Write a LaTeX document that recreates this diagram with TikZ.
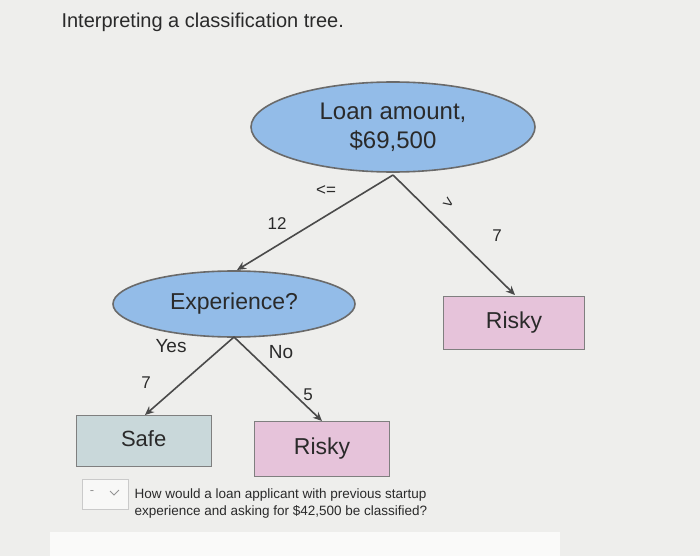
\documentclass[tikz,border=0pt]{standalone}
\usepackage{fontspec}
\setmainfont{Liberation Sans}
\usetikzlibrary{shapes.geometric,arrows.meta}
\definecolor{bg}{HTML}{EEEEEC}
\definecolor{ellfill}{HTML}{93BCE8}
\definecolor{pinkfill}{HTML}{E6C3DA}
\definecolor{safefill}{HTML}{C9D8DA}
\definecolor{ink}{HTML}{2A2A2A}
\tikzset{
  ell/.style={ellipse,draw=ink!70,fill=ellfill,line width=1.6pt,inner sep=0pt,text=ink},
  leaf/.style={rectangle,draw=ink!60,fill=#1,line width=1.2pt,inner sep=0pt,text=ink},
  edge/.style={draw=ink!85,line width=1.6pt,-{Stealth[length=9pt,width=8pt]}},
  lbl/.style={text=ink,font=\fontsize{17}{19}\selectfont},
}
\begin{document}
\begin{tikzpicture}[x=1pt,y=-1pt]
\fill[bg] (0,0) rectangle (700,556);
\useasboundingbox (0,0) rectangle (700,556);
\node[anchor=west,text=ink,font=\fontsize{20}{22}\selectfont] (title) at (58,22) {Interpreting a classification tree.};
\node[ell,minimum width=284pt,minimum height=90pt,align=center,font=\fontsize{24}{29}\selectfont] (root) at (393,127) {Loan amount,\\\$69,500};
\node[ell,minimum width=242pt,minimum height=66pt,font=\fontsize{23}{26}\selectfont] (exp) at (234,304) {Experience?};
\node[leaf=pinkfill,minimum width=141pt,minimum height=53pt,font=\fontsize{23}{26}\selectfont] (risk1) at (514,323) {Risky};
\node[leaf=safefill,minimum width=135pt,minimum height=51pt,font=\fontsize{22}{26}\selectfont,text width=118pt,align=left] (safe) at (144,441) {\raisebox{4pt}{\hspace*{36pt}Safe}};
\node[leaf=pinkfill,minimum width=135pt,minimum height=55pt,font=\fontsize{23}{26}\selectfont] (risk2) at (322,449) {\raisebox{-3pt}{Risky}};
\coordinate (rb) at (393,175);
\coordinate (eb) at (234,337);
\draw[edge] (rb) -- (237,270);
\draw[edge] (rb) -- (515,295);
\draw[edge] (eb) -- (145,415);
\draw[edge] (eb) -- (322,421);
\node[lbl,inner sep=0pt] (le) at (326,191) {<=};
\node[lbl] (l12) at (277,224) {12};
\node[lbl,rotate=-35] (gt) at (448,203) {>};
\node[lbl] (l7a) at (497,236) {7};
\node[lbl,font=\fontsize{19}{22}\selectfont] (yes) at (171,346) {Yes};
\node[lbl,font=\fontsize{19}{22}\selectfont] (no) at (281,352) {No};
\node[lbl] (l7b) at (146,383) {7};
\node[lbl] (l5) at (308,395) {5};
\node[draw=ink!25,fill=white!60!bg,minimum width=46pt,minimum height=30pt] (dd) at (105,494) {};
\node[text=ink!50,font=\fontsize{13}{15}\selectfont] (dash) at (92,493) {-};
\draw[ink!50,line width=1pt] (110,491) -- (114,495) -- (119,490);
\node[anchor=west,align=left,text=ink,font=\fontsize{13.5}{17}\selectfont] (q) at (131,504) {How would a loan applicant with previous startup\\experience and asking for \$42,500 be classified?};
\fill[white!70!bg] (50,532) rectangle (560,556);
\end{tikzpicture}
\end{document}
